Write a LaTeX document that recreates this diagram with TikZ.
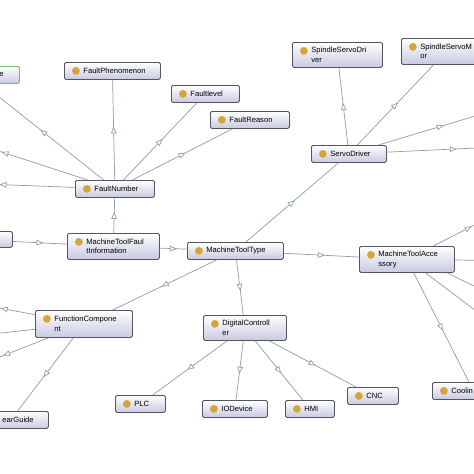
\documentclass[tikz,border=0pt]{standalone}
\usepackage{fontspec}
\setsansfont{Liberation Sans}
\usetikzlibrary{arrows.meta,decorations.markings}

\definecolor{nodeline}{HTML}{55555E}
\definecolor{nodebot}{HTML}{C9C9E2}
\definecolor{dotcol}{HTML}{D4A537}
\definecolor{edgecol}{HTML}{8C9EAB}
\definecolor{selcol}{HTML}{6DBE6D}

\tikzset{
    cls/.style={draw=nodeline, line width=0.8pt, rounded corners=1.5pt,
        top color=white, bottom color=nodebot,
        anchor=north west, inner xsep=0pt, inner ysep=0pt, align=left,
        font=\sffamily\fontsize{7.6}{9.5}\selectfont, minimum height=17pt,
        execute at begin node={\leftskip=19pt\relax},
        path picture={\fill[dotcol] ([xshift=11.5pt,yshift=-8.5pt]path picture bounding box.north west) circle (3.9pt);}},
    isa/.style={draw=edgecol, line width=0.7pt, postaction={decorate},
        decoration={markings, mark=at position 0.5 with {\pgftransformxshift{3.5pt}\arrow{Triangle[fill=white,length=7pt,width=5.5pt]}}}},
}

\begin{document}
\begin{tikzpicture}[x=1pt,y=-1pt]

    \useasboundingbox (0,0) rectangle (474,474);
    \fill[white] (0,0) rectangle (474,474);
    \clip (0,0) rectangle (474,474);

    % classes
    \node[cls, draw=selcol, text width=96pt] (sel) at (-77,66) {\hspace*{57pt}e};
    \node[cls, text width=96pt] (fphen) at (64,62) {FaultPhenomenon};
    \node[cls, text width=68pt] (flevel) at (171,85) {Faultlevel};
    \node[cls, text width=79pt] (freason) at (210,111) {FaultReason};
    \node[cls, text width=79pt] (fnumber) at (75,180) {FaultNumber};
    \node[cls, text width=90pt, minimum height=25pt] (spdrv) at (292,42) {SpindleServoDri\\ver};
    \node[cls, text width=90pt, minimum height=26pt] (spmot) at (401,38) {SpindleServoM\\or};
    \node[cls, text width=75pt] (servo) at (311,145) {ServoDriver};
    \node[cls, text width=82pt, minimum height=16pt] (lnode) at (-70,231) {};
    \node[cls, text width=92pt, minimum height=26pt] (mtfi) at (67,233) {MachineToolFaul\\tInformation};
    \node[cls, text width=96pt] (mtt) at (187,242) {MachineToolType};
    \node[cls, text width=95pt, minimum height=26pt] (mta) at (359,246) {MachineToolAcce\\ssory};
    \node[cls, text width=97pt, minimum height=27pt] (func) at (35,310) {FunctionCompone\\nt};
    \node[cls, text width=83pt, minimum height=25pt] (dctrl) at (203,315) {DigitalControll\\er};
    \node[cls, text width=50pt] (plc) at (115,395) {PLC};
    \node[cls, text width=65pt] (iodev) at (202,400) {IODevice};
    \node[cls, text width=49pt] (hmi) at (285,400) {HMI};
    \node[cls, text width=51pt] (cnc) at (347,387) {CNC};
    \node[cls, text width=82pt] (cool) at (432,382) {Coolin};
    \node[cls, text width=75pt] (lguide) at (-27,411) {\hspace*{10pt}earGuide};

    % ends outside the picture
    \coordinate (offA) at (-78,126);
    \coordinate (offB) at (-69,182);
    \coordinate (offC) at (-27,303);
    \coordinate (offD) at (-80,342);
    \coordinate (offE) at (-36,371);
    \coordinate (offF) at (504,210);
    \coordinate (offG) at (530,261);
    \coordinate (offH) at (540,318);
    \coordinate (offI) at (560,374);
    \coordinate (offJ) at (502,108);
    \coordinate (offK) at (520,146);

    \draw[isa] (fnumber) -- (fphen);
    \draw[isa] (fnumber) -- (flevel);
    \draw[isa] (fnumber) -- (freason);
    \draw[isa] (fnumber) -- (sel);
    \draw[isa] (fnumber) -- (offA);
    \draw[isa] (fnumber) -- (offB);
    \draw[isa] (mtfi) -- (fnumber);
    \draw[isa] (lnode) -- (mtfi);
    \draw[isa] (mtfi) -- (mtt);
    \draw[isa] (mtt) -- (servo);
    \draw[isa] (mtt) -- (mta);
    \draw[isa] (mtt) -- (dctrl);
    \draw[isa] (mtt) -- (func);
    \draw[isa] (servo) -- (spdrv);
    \draw[isa] (servo) -- (spmot);
    \draw[isa] (servo) -- (offJ);
    \draw[isa] (servo) -- (offK);
    \draw[isa] (mta) -- (offF);
    \draw[isa] (mta) -- (offG);
    \draw[isa] ([xshift=40pt]mta.south) -- (offH);
    \draw[isa] ([xshift=18.5pt]mta.south) -- (offI);
    \draw[isa] (mta) -- (cool);
    \draw[isa] (func) -- (offC);
    \draw[isa] (func) -- (offD);
    \draw[isa] (func) -- (offE);
    \draw[isa] (func) -- (lguide);
    \draw[isa] (dctrl) -- (plc);
    \draw[isa] (dctrl) -- (iodev);
    \draw[isa] (dctrl) -- (hmi);
    \draw[isa] (dctrl) -- (cnc);

\end{tikzpicture}
\end{document}
